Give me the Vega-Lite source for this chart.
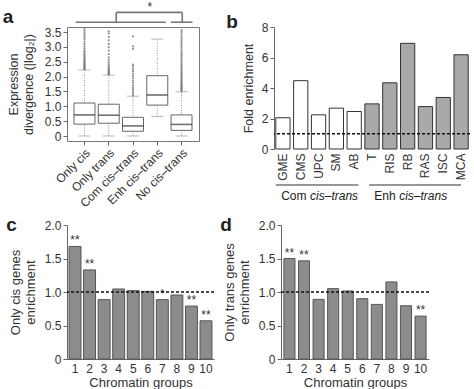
{
 "$schema": "https://vega.github.io/schema/vega-lite/v6.json",
 "padding": {"left": 2, "top": 0, "right": 0, "bottom": 0},
 "config": {
  "font": "Liberation Sans",
  "view": {"stroke": null},
  "axis": {"labelColor": "#333", "titleColor": "#333", "domainColor": "#666", "tickColor": "#666", "titleFontWeight": "normal", "labelFontSize": 12, "titleFontSize": 13, "grid": false, "tickSize": 4, "labelOverlap": false},
  "title": {"fontSize": 19, "fontWeight": "bold", "anchor": "start", "frame": "bounds", "color": "#222", "baseline": "alphabetic"}
 },
 "datasets": {
  "abox": [
   {"g": "Only cis", "lo": 0, "q1": 0.40, "med": 0.71, "q3": 1.11, "hi": 2.22},
   {"g": "Only trans", "lo": 0, "q1": 0.43, "med": 0.70, "q3": 1.07, "hi": 2.05},
   {"g": "Com cis–trans", "lo": 0, "q1": 0.16, "med": 0.34, "q3": 0.63, "hi": 1.34},
   {"g": "Enh cis–trans", "lo": 0.66, "q1": 1.04, "med": 1.38, "q3": 2.03, "hi": 3.26},
   {"g": "No cis–trans", "lo": 0, "q1": 0.19, "med": 0.39, "q3": 0.71, "hi": 1.49}
  ],
  "aout": [
   {"g": "Only cis", "v": 2.24}, {"g": "Only cis", "v": 2.26}, {"g": "Only cis", "v": 2.28}, {"g": "Only cis", "v": 2.30}, {"g": "Only cis", "v": 2.32}, {"g": "Only cis", "v": 2.35}, {"g": "Only cis", "v": 2.38}, {"g": "Only cis", "v": 2.41}, {"g": "Only cis", "v": 2.44}, {"g": "Only cis", "v": 2.47}, {"g": "Only cis", "v": 2.50}, {"g": "Only cis", "v": 2.53}, {"g": "Only cis", "v": 2.57}, {"g": "Only cis", "v": 2.61}, {"g": "Only cis", "v": 2.65}, {"g": "Only cis", "v": 2.69}, {"g": "Only cis", "v": 2.73}, {"g": "Only cis", "v": 2.78}, {"g": "Only cis", "v": 2.83}, {"g": "Only cis", "v": 2.88}, {"g": "Only cis", "v": 2.95}, {"g": "Only cis", "v": 3.02}, {"g": "Only cis", "v": 3.10}, {"g": "Only cis", "v": 3.18}, {"g": "Only cis", "v": 3.26}, {"g": "Only cis", "v": 3.33}, {"g": "Only cis", "v": 3.40}, {"g": "Only cis", "v": 3.47}, {"g": "Only cis", "v": 3.54}, {"g": "Only cis", "v": 3.60},
   {"g": "Only trans", "v": 2.07}, {"g": "Only trans", "v": 2.09}, {"g": "Only trans", "v": 2.11}, {"g": "Only trans", "v": 2.13}, {"g": "Only trans", "v": 2.16}, {"g": "Only trans", "v": 2.19}, {"g": "Only trans", "v": 2.22}, {"g": "Only trans", "v": 2.26}, {"g": "Only trans", "v": 2.30}, {"g": "Only trans", "v": 2.35}, {"g": "Only trans", "v": 2.41}, {"g": "Only trans", "v": 2.48}, {"g": "Only trans", "v": 2.56}, {"g": "Only trans", "v": 2.65}, {"g": "Only trans", "v": 2.76}, {"g": "Only trans", "v": 2.87}, {"g": "Only trans", "v": 2.99}, {"g": "Only trans", "v": 3.10}, {"g": "Only trans", "v": 3.22}, {"g": "Only trans", "v": 3.33}, {"g": "Only trans", "v": 3.45}, {"g": "Only trans", "v": 3.52},
   {"g": "Com cis–trans", "v": 1.36}, {"g": "Com cis–trans", "v": 1.42}, {"g": "Com cis–trans", "v": 1.48}, {"g": "Com cis–trans", "v": 1.55}, {"g": "Com cis–trans", "v": 1.62}, {"g": "Com cis–trans", "v": 1.70}, {"g": "Com cis–trans", "v": 1.78}, {"g": "Com cis–trans", "v": 1.86}, {"g": "Com cis–trans", "v": 1.94}, {"g": "Com cis–trans", "v": 2.02}, {"g": "Com cis–trans", "v": 2.10}, {"g": "Com cis–trans", "v": 2.18}, {"g": "Com cis–trans", "v": 2.26}, {"g": "Com cis–trans", "v": 2.34}, {"g": "Com cis–trans", "v": 2.40}, {"g": "Com cis–trans", "v": 2.93}, {"g": "Com cis–trans", "v": 3.02}, {"g": "Com cis–trans", "v": 3.35},
   {"g": "No cis–trans", "v": 1.50}, {"g": "No cis–trans", "v": 1.53}, {"g": "No cis–trans", "v": 1.56}, {"g": "No cis–trans", "v": 1.59}, {"g": "No cis–trans", "v": 1.62}, {"g": "No cis–trans", "v": 1.65}, {"g": "No cis–trans", "v": 1.68}, {"g": "No cis–trans", "v": 1.71}, {"g": "No cis–trans", "v": 1.74}, {"g": "No cis–trans", "v": 1.77}, {"g": "No cis–trans", "v": 1.80}, {"g": "No cis–trans", "v": 1.84}, {"g": "No cis–trans", "v": 1.88}, {"g": "No cis–trans", "v": 1.92}, {"g": "No cis–trans", "v": 1.96}, {"g": "No cis–trans", "v": 2.00}, {"g": "No cis–trans", "v": 2.04}, {"g": "No cis–trans", "v": 2.08}, {"g": "No cis–trans", "v": 2.12}, {"g": "No cis–trans", "v": 2.17}, {"g": "No cis–trans", "v": 2.22}, {"g": "No cis–trans", "v": 2.27}, {"g": "No cis–trans", "v": 2.32}, {"g": "No cis–trans", "v": 2.37}, {"g": "No cis–trans", "v": 2.42}, {"g": "No cis–trans", "v": 2.48}, {"g": "No cis–trans", "v": 2.54}, {"g": "No cis–trans", "v": 2.60}, {"g": "No cis–trans", "v": 2.66}, {"g": "No cis–trans", "v": 2.72}, {"g": "No cis–trans", "v": 2.78}, {"g": "No cis–trans", "v": 2.85}, {"g": "No cis–trans", "v": 2.92}, {"g": "No cis–trans", "v": 2.99}, {"g": "No cis–trans", "v": 3.06}, {"g": "No cis–trans", "v": 3.13}, {"g": "No cis–trans", "v": 3.20}, {"g": "No cis–trans", "v": 3.27}, {"g": "No cis–trans", "v": 3.34}, {"g": "No cis–trans", "v": 3.42}, {"g": "No cis–trans", "v": 3.50}, {"g": "No cis–trans", "v": 3.56}
  ],
  "abracket": [
   {"x": 0.64, "x2": 4.35, "y": 3.83, "y2": 3.83},
   {"x": 4.56, "x2": 5.45, "y": 3.83, "y2": 3.83},
   {"x": 2.31, "x2": 5.03, "y": 4.16, "y2": 4.16},
   {"x": 2.31, "x2": 2.31, "y": 3.83, "y2": 4.16},
   {"x": 5.03, "x2": 5.03, "y": 3.83, "y2": 4.16}
  ],
  "astar": [{"x": 3.69, "y": 4.34, "t": "*"}],
  "b": [
   {"cat": "GME", "grp": "Com", "val": 2.05},
   {"cat": "CMS", "grp": "Com", "val": 4.48},
   {"cat": "UPC", "grp": "Com", "val": 2.24},
   {"cat": "SM", "grp": "Com", "val": 2.68},
   {"cat": "AB", "grp": "Com", "val": 2.46},
   {"cat": "T", "grp": "Enh", "val": 2.96},
   {"cat": "RIS", "grp": "Enh", "val": 4.34},
   {"cat": "RB", "grp": "Enh", "val": 6.93},
   {"cat": "RAS", "grp": "Enh", "val": 2.78},
   {"cat": "ISC", "grp": "Enh", "val": 3.38},
   {"cat": "MCA", "grp": "Enh", "val": 6.18}
  ],
  "c": [
   {"grp": "1", "val": 1.68, "star": "**"},
   {"grp": "2", "val": 1.33, "star": "**"},
   {"grp": "3", "val": 0.886, "star": ""},
   {"grp": "4", "val": 1.045, "star": ""},
   {"grp": "5", "val": 1.02, "star": ""},
   {"grp": "6", "val": 1.01, "star": ""},
   {"grp": "7", "val": 0.886, "star": "*"},
   {"grp": "8", "val": 0.955, "star": ""},
   {"grp": "9", "val": 0.79, "star": "**"},
   {"grp": "10", "val": 0.57, "star": "**"}
  ],
  "d": [
   {"grp": "1", "val": 1.50, "star": "**"},
   {"grp": "2", "val": 1.465, "star": "**"},
   {"grp": "3", "val": 0.89, "star": ""},
   {"grp": "4", "val": 1.05, "star": ""},
   {"grp": "5", "val": 1.015, "star": ""},
   {"grp": "6", "val": 0.90, "star": ""},
   {"grp": "7", "val": 0.815, "star": ""},
   {"grp": "8", "val": 1.15, "star": ""},
   {"grp": "9", "val": 0.795, "star": ""},
   {"grp": "10", "val": 0.64, "star": "**"}
  ],
  "ref": [{"r": 1}]
 },
 "vconcat": [
  {
   "spacing": 26,
   "hconcat": [
    {
     "title": {"text": "a", "offset": -26, "dx": -5},
     "width": 132, "height": 114,
     "view": {"stroke": "#777", "strokeWidth": 1},
     "resolve": {"scale": {"x": "independent"}},
     "layer": [
      {
       "layer": [
        {
         "data": {"name": "aout"},
         "mark": {"type": "circle", "size": 5, "color": "#777", "opacity": 0.8},
         "encoding": {
          "x": {"field": "g", "type": "nominal", "scale": {"domain": ["Only cis", "Only trans", "Com cis–trans", "Enh cis–trans", "No cis–trans"], "paddingInner": 0, "paddingOuter": 0.22},
                "axis": {"title": null, "labelAngle": -45, "domain": false, "ticks": true, "tickSize": 4, "labelFontSize": 12, "labelPadding": 2}},
          "y": {"field": "v", "type": "quantitative", "scale": {"domain": [-0.168, 3.669], "nice": false, "zero": false},
                "axis": {"title": ["Expression", "divergence (|log₂|)"], "values": [0, 0.5, 1, 1.5, 2, 2.5, 3, 3.5], "tickCount": 20, "labelExpr": "datum.value == 0 ? '0' : format(datum.value, '.1f')", "labelOverlap": false, "domain": false, "labelFontSize": 12, "labelPadding": 2, "titleFontSize": 12.5, "titlePadding": 9}}
         }
        },
        {
         "data": {"name": "abox"},
         "mark": {"type": "rule", "color": "#999", "strokeDash": [1, 1.5], "strokeWidth": 1},
         "encoding": {"x": {"field": "g", "type": "nominal"}, "y": {"field": "lo", "type": "quantitative"}, "y2": {"field": "hi"}}
        },
        {
         "data": {"name": "abox"},
         "mark": {"type": "bar", "width": 21, "fill": "white", "stroke": "#666", "strokeWidth": 1},
         "encoding": {"x": {"field": "g", "type": "nominal"}, "y": {"field": "q1", "type": "quantitative"}, "y2": {"field": "q3"}}
        },
        {
         "data": {"name": "abox"},
         "mark": {"type": "tick", "orient": "horizontal", "size": 21, "thickness": 1.6, "color": "#333"},
         "encoding": {"x": {"field": "g", "type": "nominal"}, "y": {"field": "med", "type": "quantitative"}}
        },
        {
         "data": {"name": "abox"},
         "mark": {"type": "tick", "orient": "horizontal", "size": 12, "thickness": 1, "color": "#999"},
         "encoding": {"x": {"field": "g", "type": "nominal"}, "y": {"field": "lo", "type": "quantitative"}}
        },
        {
         "data": {"name": "abox"},
         "mark": {"type": "tick", "orient": "horizontal", "size": 12, "thickness": 1, "color": "#999"},
         "encoding": {"x": {"field": "g", "type": "nominal"}, "y": {"field": "hi", "type": "quantitative"}}
        }
       ]
      },
      {
       "layer": [
        {
         "data": {"name": "abracket"},
         "mark": {"type": "rule", "color": "#777", "strokeWidth": 1.6},
         "encoding": {"x": {"field": "x", "type": "quantitative", "scale": {"domain": [0.28, 5.72], "nice": false, "zero": false}, "axis": null},
                      "x2": {"field": "x2"}, "y": {"field": "y", "type": "quantitative"}, "y2": {"field": "y2"}}
        },
        {
         "data": {"name": "astar"},
         "mark": {"type": "text", "fontSize": 12, "color": "#333", "baseline": "middle"},
         "encoding": {"x": {"field": "x", "type": "quantitative"}, "y": {"field": "y", "type": "quantitative"}, "text": {"field": "t"}}
        }
       ]
      }
     ]
    },
    {
     "title": {"text": "b", "offset": -11, "dx": -16},
     "width": 196, "height": 122,
     "layer": [
      {
       "data": {"name": "b"},
       "mark": {"type": "bar", "stroke": "#333", "strokeWidth": 1},
       "encoding": {
        "x": {"field": "cat", "type": "nominal", "scale": {"domain": ["GME", "CMS", "UPC", "SM", "AB", "T", "RIS", "RB", "RAS", "ISC", "MCA"], "paddingInner": 0.2, "paddingOuter": 0.1},
              "axis": {"title": null, "labelAngle": -90, "domain": false, "ticks": false, "labelFontSize": 12, "labelPadding": 4}},
        "y": {"field": "val", "type": "quantitative", "scale": {"domain": [0, 8], "nice": false},
              "axis": {"title": "Fold enrichment", "values": [0, 2, 4, 6, 8], "tickCount": 20, "format": "d", "labelOverlap": false, "labelFontSize": 12, "titleFontSize": 12.5, "titlePadding": 6}},
        "fill": {"field": "grp", "type": "nominal", "scale": {"domain": ["Com", "Enh"], "range": ["#ffffff", "#a9a9a9"]}, "legend": null}
       }
      },
      {
       "data": {"name": "ref"},
       "mark": {"type": "rule", "color": "#111", "strokeDash": [3, 2], "strokeWidth": 1.3},
       "encoding": {"y": {"field": "r", "type": "quantitative"}}
      },
      {
       "data": {"values": [{"a": "GME", "b": "AB", "y": -2.36}]},
       "mark": {"type": "rule", "color": "#333", "strokeWidth": 1},
       "encoding": {"x": {"field": "a", "type": "nominal", "bandPosition": 0}, "x2": {"field": "b", "bandPosition": 0.8}, "y": {"field": "y", "type": "quantitative"}}
      },
      {
       "data": {"values": [{"a": "T", "b": "MCA", "y": -2.36}]},
       "mark": {"type": "rule", "color": "#333", "strokeWidth": 1},
       "encoding": {"x": {"field": "a", "type": "nominal", "bandPosition": 0.3}, "x2": {"field": "b", "bandPosition": 0.5}, "y": {"field": "y", "type": "quantitative"}}
      },
      {
       "data": {"values": [{"cat": "UPC", "t": "Com", "y": -3.1}]},
       "mark": {"type": "text", "fontSize": 12, "color": "#222", "align": "right", "baseline": "middle", "dx": -12},
       "encoding": {"x": {"field": "cat", "type": "nominal"}, "y": {"field": "y", "type": "quantitative"}, "text": {"field": "t"}}
      },
      {
       "data": {"values": [{"cat": "UPC", "t": "cis–trans", "y": -3.1}]},
       "mark": {"type": "text", "fontSize": 12, "color": "#222", "align": "left", "baseline": "middle", "dx": -8.5, "fontStyle": "italic"},
       "encoding": {"x": {"field": "cat", "type": "nominal"}, "y": {"field": "y", "type": "quantitative"}, "text": {"field": "t"}}
      },
      {
       "data": {"values": [{"cat": "RB", "t": "Enh", "y": -3.1}]},
       "mark": {"type": "text", "fontSize": 12, "color": "#222", "align": "right", "baseline": "middle", "dx": -12},
       "encoding": {"x": {"field": "cat", "type": "nominal"}, "y": {"field": "y", "type": "quantitative"}, "text": {"field": "t"}}
      },
      {
       "data": {"values": [{"cat": "RB", "t": "cis–trans", "y": -3.1}]},
       "mark": {"type": "text", "fontSize": 12, "color": "#222", "align": "left", "baseline": "middle", "dx": -8.5, "fontStyle": "italic"},
       "encoding": {"x": {"field": "cat", "type": "nominal"}, "y": {"field": "y", "type": "quantitative"}, "text": {"field": "t"}}
      }
     ]
    }
   ]
  },
  {
   "spacing": 5,
   "hconcat": [
    {
     "title": {"text": "c", "offset": 11, "dx": -3, "dy": 27},
     "width": 147, "height": 134,
     "data": {"name": "c"},
     "layer": [
      {
       "mark": {"type": "bar", "fill": "#8c8c8c", "stroke": "#555", "strokeWidth": 1},
       "encoding": {
        "x": {"field": "grp", "type": "nominal", "sort": null, "scale": {"paddingInner": 0.18, "paddingOuter": 0.14},
              "axis": {"title": "Chromatin groups", "labelAngle": 0, "ticks": false, "labelFontSize": 12, "labelPadding": 4, "titleFontSize": 13, "titlePadding": 2}},
        "y": {"field": "val", "type": "quantitative", "scale": {"domain": [0, 2], "nice": false},
              "axis": {"title": ["Only cis genes", "enrichment"], "values": [0, 0.5, 1, 1.5, 2], "tickCount": 20, "labelExpr": "datum.value == 0 ? '0' : format(datum.value, '.1f')", "labelOverlap": false, "labelFontSize": 12, "titleFontSize": 13, "titlePadding": 7}}
       }
      },
      {
       "mark": {"type": "text", "fontSize": 12, "color": "#333", "baseline": "bottom", "dy": 1},
       "encoding": {"x": {"field": "grp", "type": "nominal", "sort": null}, "y": {"field": "val", "type": "quantitative"}, "text": {"field": "star"}}
      },
      {
       "data": {"name": "ref"},
       "mark": {"type": "rule", "color": "#111", "strokeDash": [3, 2], "strokeWidth": 1.3},
       "encoding": {"y": {"field": "r", "type": "quantitative"}}
      }
     ]
    },
    {
     "title": {"text": "d", "offset": 11, "dx": -3, "dy": 27},
     "width": 148, "height": 134,
     "data": {"name": "d"},
     "layer": [
      {
       "mark": {"type": "bar", "fill": "#8c8c8c", "stroke": "#555", "strokeWidth": 1},
       "encoding": {
        "x": {"field": "grp", "type": "nominal", "sort": null, "scale": {"paddingInner": 0.24, "paddingOuter": 0.2},
              "axis": {"title": "Chromatin groups", "labelAngle": 0, "ticks": false, "labelFontSize": 12, "labelPadding": 4, "titleFontSize": 13, "titlePadding": 2}},
        "y": {"field": "val", "type": "quantitative", "scale": {"domain": [0, 2], "nice": false},
              "axis": {"title": ["Only trans genes", "enrichment"], "values": [0, 0.5, 1, 1.5, 2], "tickCount": 20, "labelExpr": "datum.value == 0 ? '0' : format(datum.value, '.1f')", "labelOverlap": false, "labelFontSize": 12, "titleFontSize": 13, "titlePadding": 7}}
       }
      },
      {
       "mark": {"type": "text", "fontSize": 12, "color": "#333", "baseline": "bottom", "dy": 1},
       "encoding": {"x": {"field": "grp", "type": "nominal", "sort": null}, "y": {"field": "val", "type": "quantitative"}, "text": {"field": "star"}}
      },
      {
       "data": {"name": "ref"},
       "mark": {"type": "rule", "color": "#111", "strokeDash": [3, 2], "strokeWidth": 1.3},
       "encoding": {"y": {"field": "r", "type": "quantitative"}}
      }
     ]
    }
   ]
  }
 ],
 "spacing": 6
}
